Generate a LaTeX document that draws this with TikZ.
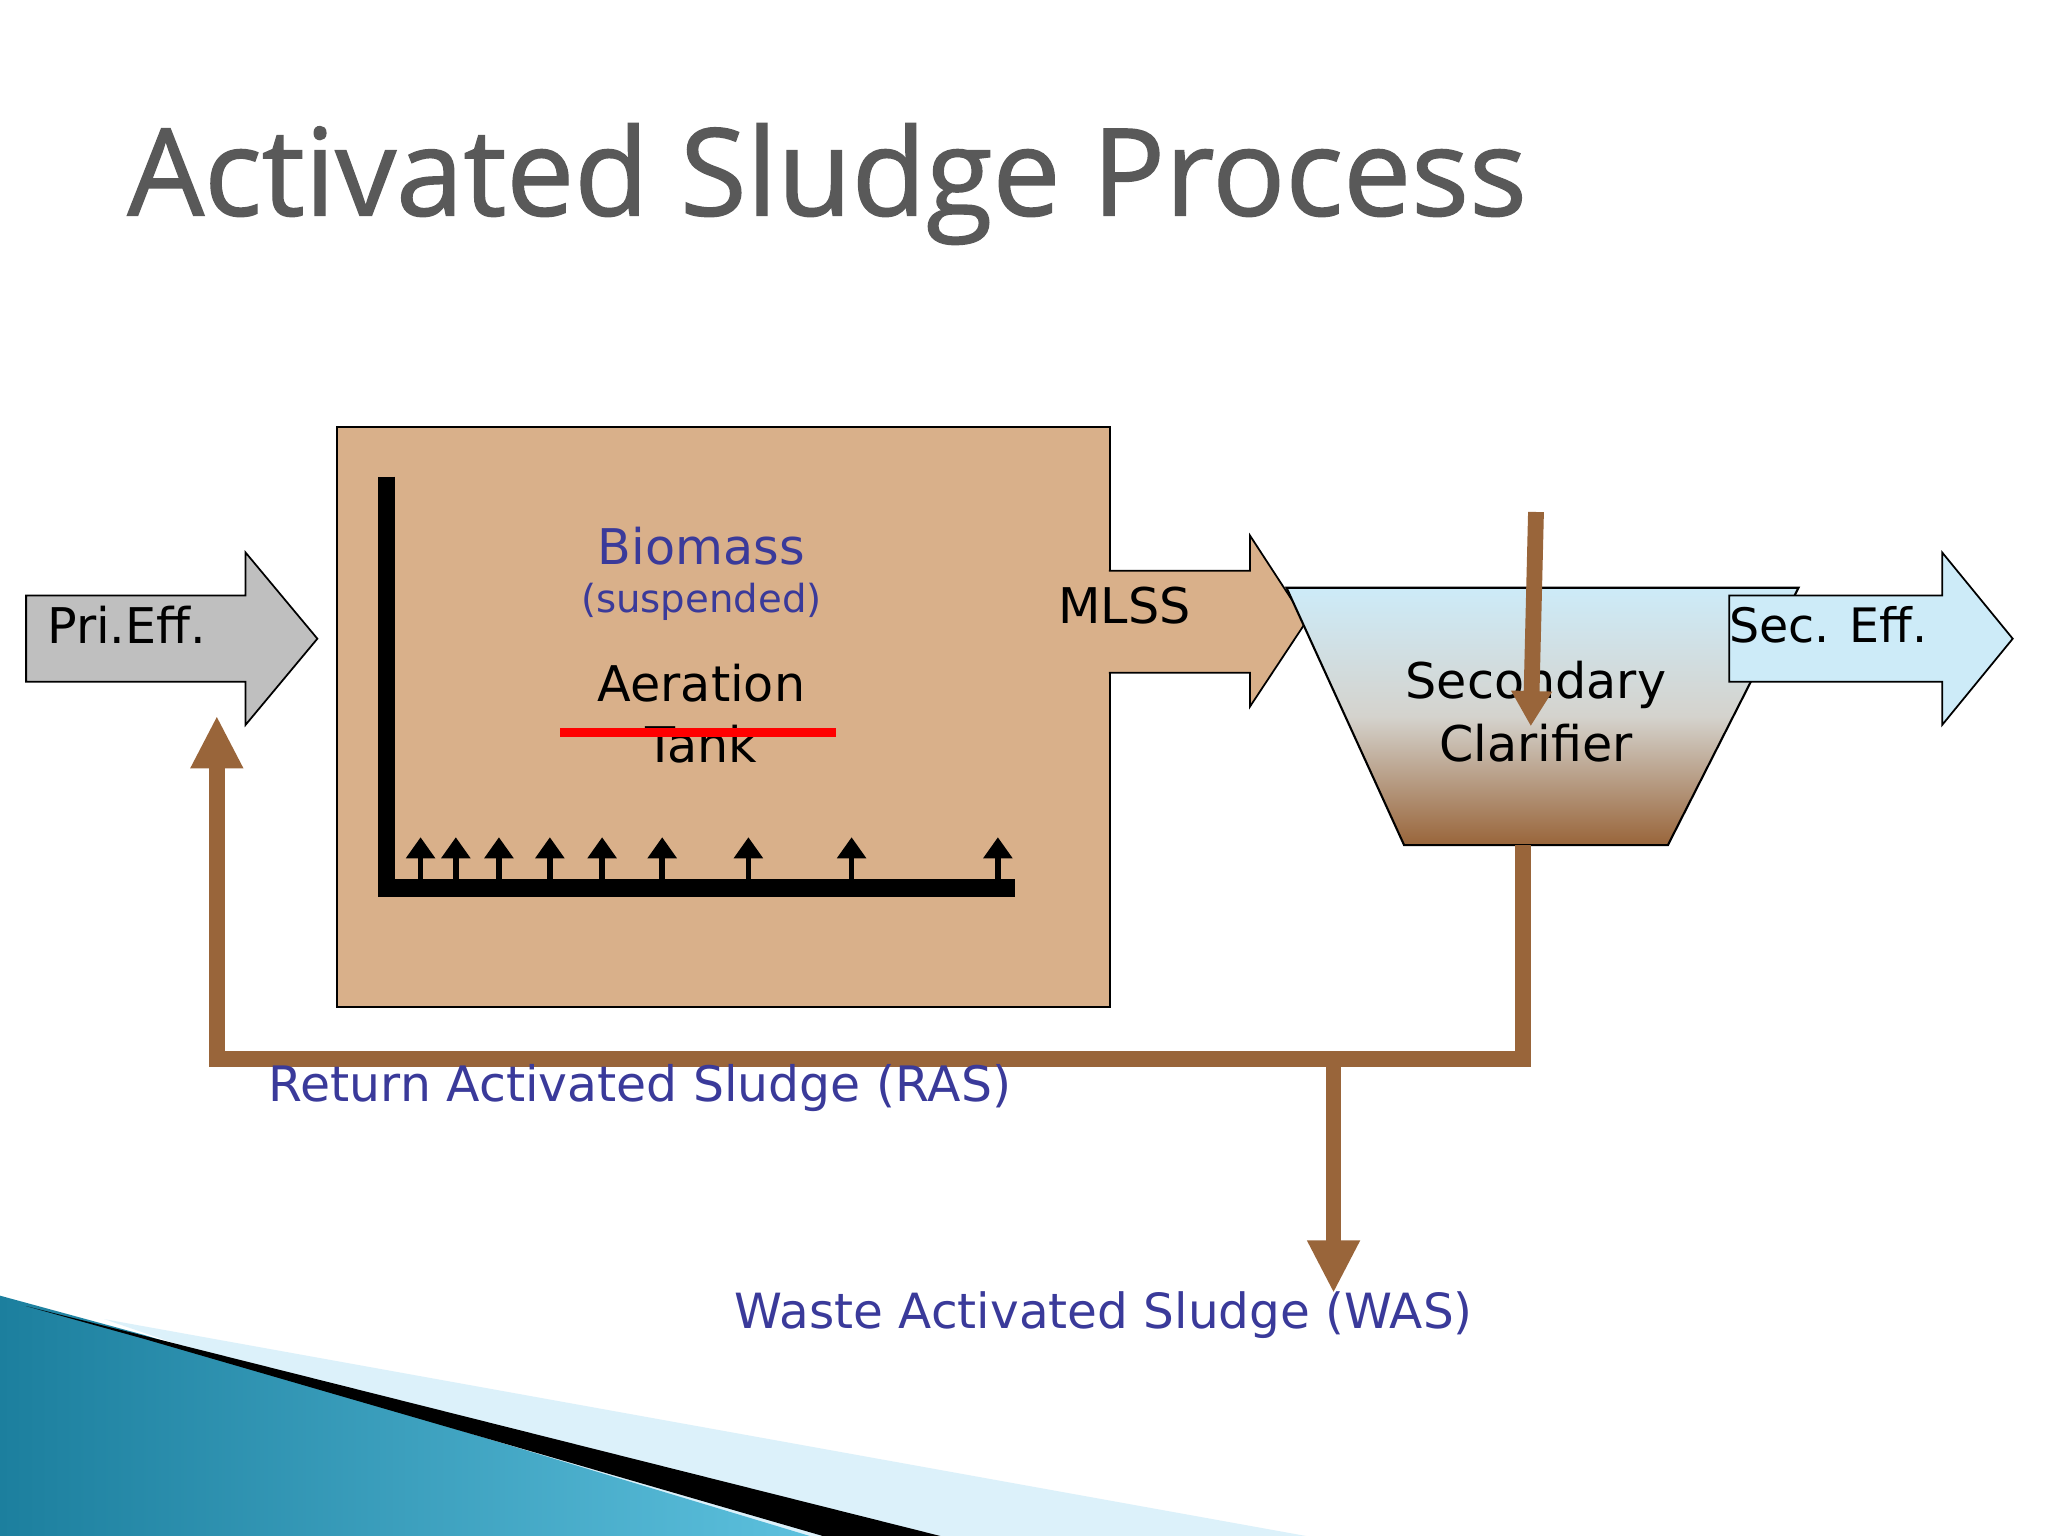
\documentclass[tikz,border=0pt]{standalone}
\usepackage{fontspec}
\setmainfont{DejaVu Sans}
\newfontfamily\titlefont[FakeBold=1.2]{Open Sans}
\usetikzlibrary{arrows.meta}
\definecolor{tan}{HTML}{D9B08A}
\definecolor{brn}{HTML}{99653A}
\definecolor{lblue}{HTML}{CDEBF8}
\definecolor{txtblue}{HTML}{3A3A9A}
\definecolor{teal1}{HTML}{1C7F9E}
\definecolor{teal2}{HTML}{5CC0DD}
\tikzset{
  blockarrow/.style={draw=black, line width=0.5pt},
  pipe/.style={brn, line width=4.5pt},
  pipehead/.style={-{Triangle[length=15pt,width=14pt]}},
  lbl/.style={font=\fontsize{13pt}{15pt}\selectfont, inner sep=0pt},
  bluelbl/.style={lbl, text=txtblue},
  bubble/.style={black, line width=1.6pt, -{Triangle[length=6,width=8]}}
}
\begin{document}
\begin{tikzpicture}[x=0.013061cm, y=-0.013061cm]
\useasboundingbox (0,0) rectangle (1568,1176);
\fill[white] (0,0) rectangle (1568,1176);
% decoration bottom-left
\fill[lblue!70] (80,1010) -- (1000,1176) -- (560,1176) -- cycle;
\shade[left color=teal1, right color=teal2] (0,992) -- (110,1022) -- (620,1176) -- (0,1176) -- cycle;
\fill[black] (20,1000) -- (720,1176) -- (630,1176) -- (110,1025) -- cycle;
% title
\node[text=black!65, font=\titlefont\fontsize{34.5pt}{38pt}\selectfont, anchor=base west, inner sep=0pt] (title) at (97,165) {Activated Sludge Process};
% aeration tank
\node[draw=black, fill=tan, line width=0.6pt, minimum width=592*0.013061cm, minimum height=444*0.013061cm, anchor=north west, inner sep=0pt] (tank) at (257,326) {};
\coordinate (vtop) at (296,365);
\coordinate (corner) at (296,680);
\coordinate (hend) at (777,680);
\draw[black, line width=5pt] (vtop) -- (corner) -- (hend);
\foreach \x in {322,349,382,421,461,507,573,652,764}{
  \coordinate (b\x) at (\x,680);
  \coordinate (t\x) at (\x,641);
  \draw[bubble] (b\x) -- (t\x);
}
\node[bluelbl, font=\fontsize{14pt}{16pt}\selectfont] (bio) at (537,418) {Biomass};
\node[bluelbl, font=\fontsize{11pt}{13pt}\selectfont] (susp) at (537,461) {(suspended)};
\node[lbl, font=\fontsize{14pt}{16pt}\selectfont] (aer) at (537,523) {Aeration};
\node[lbl, font=\fontsize{14pt}{16pt}\selectfont] (tk) at (537,570) {Tank};
\coordinate (rl) at (429,561); \coordinate (rr) at (640,561);
\draw[red, line width=2.5pt] (rl) -- (rr);
% Pri.Eff arrow
\draw[blockarrow, fill=black!25] (20,456) -- (188,456) -- (188,423) -- (243,489) -- (188,555) -- (188,522) -- (20,522) -- cycle;
\node[lbl, font=\fontsize{14pt}{16pt}\selectfont] (pri) at (97,478) {Pri.Eff.};
% MLSS arrow
\fill[tan] (849,437) -- (957,437) -- (957,410) -- (1000,476) -- (957,541) -- (957,515) -- (849,515) -- cycle;
\draw[black, line width=0.5pt] (849,437) -- (957,437) -- (957,410) -- (1000,476) -- (957,541) -- (957,515) -- (849,515);
\node[lbl, font=\fontsize{14pt}{16pt}\selectfont] (mlss) at (861,464) {MLSS};
% clarifier
\shade[top color=lblue, bottom color=brn, middle color=lblue!60!brn!60] (985,450) -- (1377,450) -- (1277,647) -- (1075,647) -- cycle;
\draw[black, line width=0.6pt] (985,450) -- (1377,450) -- (1277,647) -- (1075,647) -- cycle;
\node[lbl, font=\fontsize{14pt}{16pt}\selectfont, align=center] (clar) at (1176,545) {Secondary\\[2pt]Clarifier};
% Sec Eff arrow
\draw[blockarrow, fill=lblue] (1324,456) -- (1487,456) -- (1487,423) -- (1541,489) -- (1487,555) -- (1487,522) -- (1324,522) -- cycle;
\node[lbl, font=\fontsize{13.5pt}{16pt}\selectfont] (sec) at (1400,478) {Sec. Eff.};
% inflow arrow to clarifier
\coordinate (inA) at (1176,392); \coordinate (inB) at (1172,556);
\draw[brn, line width=4.5pt, -{Triangle[length=10pt,width=11pt]}] (inA) -- (inB);
% RAS / WAS
\coordinate (cb) at (1166,647);
\coordinate (c1) at (1166,811);
\coordinate (c2) at (166,811);
\coordinate (rasT) at (166,548);
\coordinate (wj) at (1021,811);
\coordinate (wasT) at (1021,990);
\draw[pipe, line join=miter, pipehead] (cb) -- (c1) -- (c2) -- (rasT);
\draw[pipe, pipehead] (wj) -- (wasT);
\node[bluelbl, font=\fontsize{13.9pt}{17pt}\selectfont] (ras) at (490,833) {Return Activated Sludge (RAS)};
\node[bluelbl, font=\fontsize{13.8pt}{17pt}\selectfont] (was) at (845,1007) {Waste Activated Sludge (WAS)};
\end{tikzpicture}
\end{document}
